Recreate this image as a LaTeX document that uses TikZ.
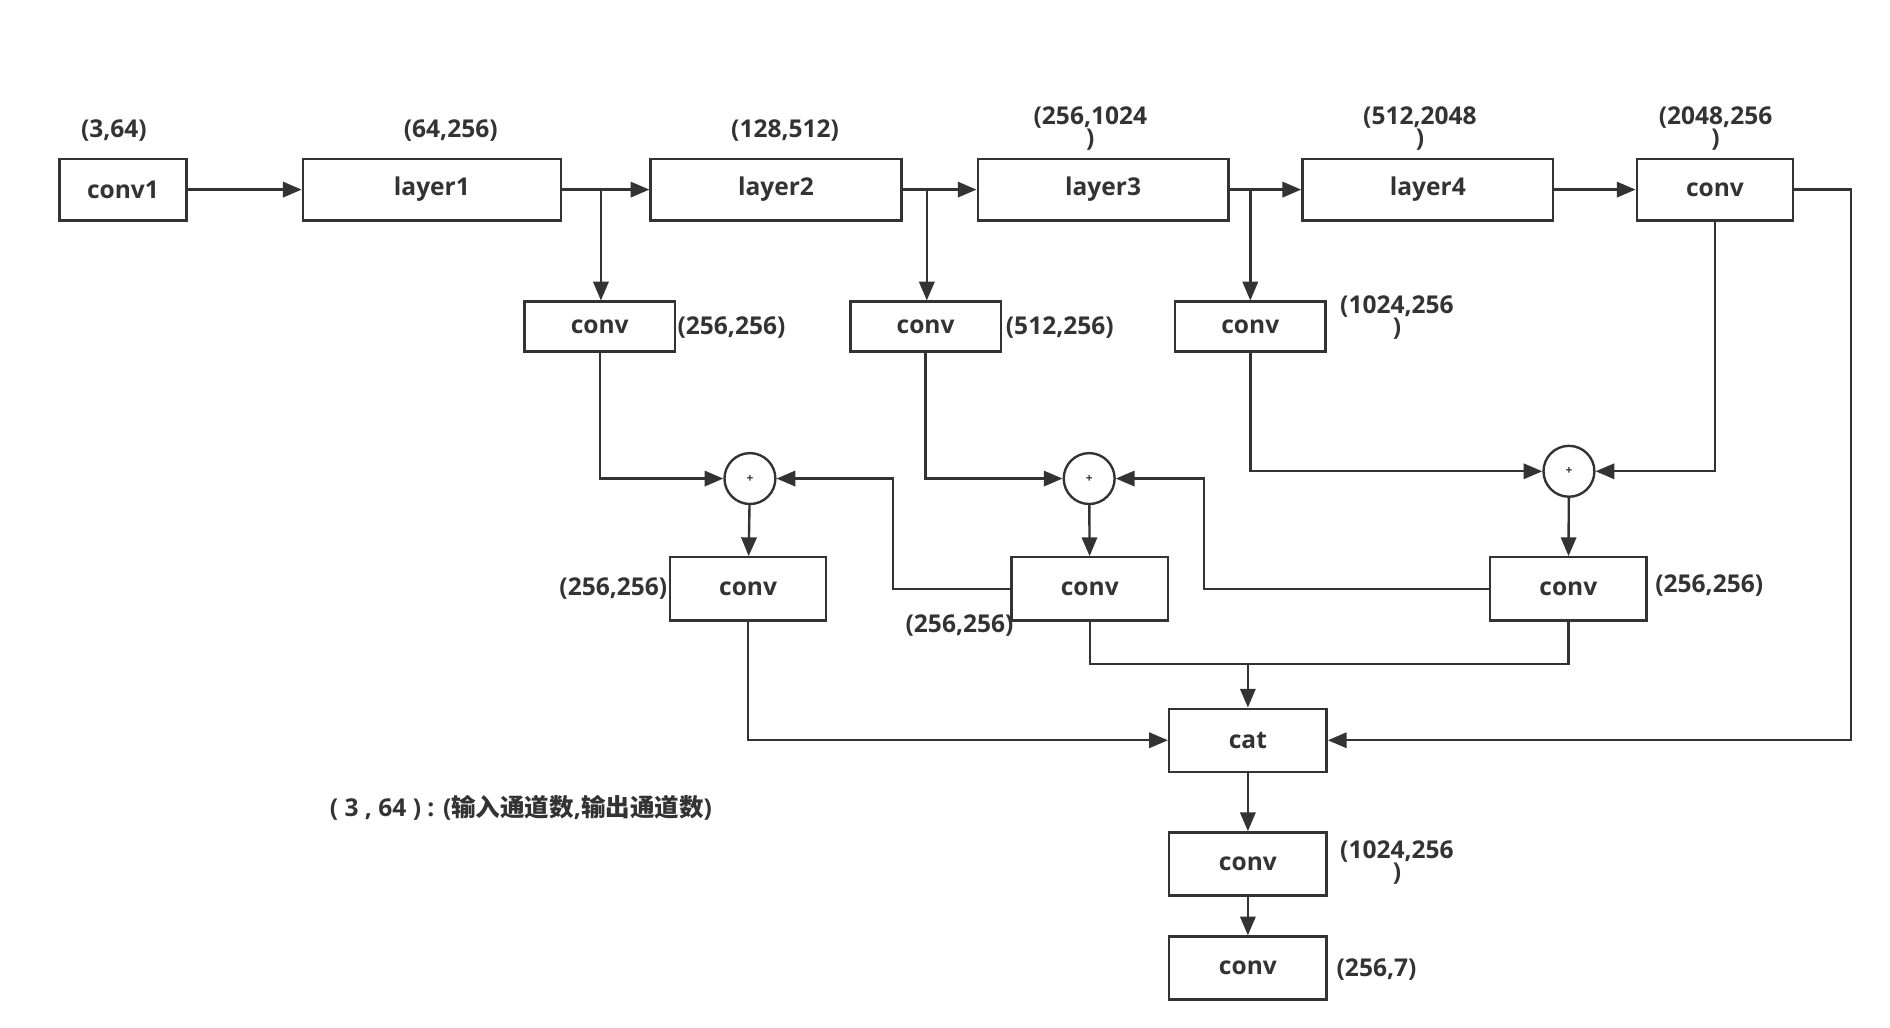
\documentclass[tikz,border=0pt]{standalone}
\usepackage{fontspec}
\setmainfont{Open Sans}
\newfontfamily\cjk{Noto Sans CJK SC}
\usetikzlibrary{arrows.meta}
\definecolor{ink}{RGB}{51,51,51}
\begin{document}
\begin{tikzpicture}[x=0.025cm,y=-0.025cm,
  box/.style={draw=ink,line width=1.4pt,fill=white,font=\bfseries\Large,text=ink,inner sep=0pt},
  lab/.style={font=\bfseries\Large,text=ink,inner sep=0pt},
  pl/.style={draw=ink,line width=1.4pt,circle,minimum size=1.05cm,inner sep=0pt,font=\scriptsize\bfseries,text=ink},
  ar/.style={draw=ink,line width=1.4pt,-{Triangle[length=11pt,width=9pt]}},
  ln/.style={draw=ink,line width=1.4pt}]
\useasboundingbox (0,0) rectangle (1560,848);
\newcommand\bx[6]{\node[box,minimum width=#4*0.025cm-1.4pt,minimum height=#5*0.025cm-1.4pt] (#1) at (#2,#3) {#6};}
\bx{c1}{101.5}{156.5}{107}{53}{conv1}
\bx{l1}{356.5}{156.5}{215}{53}{layer1}
\bx{l2}{640.5}{156.5}{209}{53}{layer2}
\bx{l3}{910.5}{156.5}{209}{53}{layer3}
\bx{l4}{1178.5}{156.5}{209}{53}{layer4}
\bx{ct}{1415.5}{156.5}{131}{53}{conv}
\bx{ca}{495}{269.5}{126}{43}{conv}
\bx{cb}{764}{269.5}{126}{43}{conv}
\bx{cc}{1032}{269.5}{126}{43}{conv}
\node[pl] (p1) at (619,395) {+};
\node[pl] (p2) at (899,395) {+};
\node[pl] (p3) at (1295,389) {+};
\bx{cd}{617.5}{486}{131}{54}{conv}
\bx{ce}{899.5}{486}{131}{54}{conv}
\bx{cf}{1294.5}{486}{131}{54}{conv}
\bx{cat}{1030}{611}{132}{54}{cat}
\bx{c7}{1030}{713}{132}{54}{conv}
\bx{c8}{1030}{799}{132}{54}{conv}
% labels
\node[lab] (t1) at (94,108) {(3,64)};
\node[lab] (t2) at (372,108) {(64,256)};
\node[lab] (t3) at (648,108) {(128,512)};
\node[lab,align=center] (t4) at (900,106) {(256,1024\\[-5pt])};
\node[lab,align=center] (t5) at (1172,106) {(512,2048\\[-5pt])};
\node[lab,align=center] (t6) at (1416,106) {(2048,256\\[-5pt])};
\node[lab,anchor=west] (t7) at (559,270) {(256,256)};
\node[lab,anchor=west] (t8) at (830,270) {(512,256)};
\node[lab,align=center] (t9) at (1153,262) {(1024,256\\[-5pt])};
\node[lab,anchor=east] (t10) at (551,486) {(256,256)};
\node[lab] (t11) at (792,516) {(256,256)};
\node[lab,anchor=west] (t12) at (1366,483) {(256,256)};
\node[lab,align=center] (t13) at (1153,712) {(1024,256\\[-5pt])};
\node[lab,anchor=west] (t14) at (1103,800) {(256,7)};
\node[lab,anchor=west] (t15) at (272,667) {( 3 , 64 ) : ({\cjk\bfseries 输入通道数},{\cjk\bfseries 输出通道数})};
% connectors
\draw[ar] (c1) -- (l1);
\draw[ar] (l1) -- (l2);
\draw[ar] (l2) -- (l3);
\draw[ar] (l3) -- (l4);
\draw[ar] (l4) -- (ct);
\coordinate (s1) at (496,156.5);
\coordinate (s2) at (765,156.5);
\coordinate (s3) at (1032,156.5);
\draw[ar] (s1) -- (s1 |- ca.north);
\draw[ar] (s2) -- (s2 |- cb.north);
\draw[ar] (s3) -- (s3 |- cc.north);
\draw[ar] (ca.south) |- (p1.west);
\draw[ar] (cb.south) |- (p2.west);
\draw[ar] (cc.south) |- (p3.west);
\draw[ar] (ct.south) |- (p3.east);
\draw[ar] (p1) -- (cd);
\draw[ar] (p2) -- (ce);
\draw[ar] (p3) -- (cf);
\coordinate (k1) at (737,486);
\coordinate (k2) at (994,486);
\draw[ar] (ce.west) -- (k1) |- (p1.east);
\draw[ar] (cf.west) -- (k2) |- (p2.east);
\draw[ar] (cd.south) |- (cat.west);
\coordinate (m) at (1030,548);
\draw[ln] (ce.south) |- (m);
\draw[ln] (cf.south) |- (m);
\draw[ar] (m) -- (cat.north);
\coordinate (r) at (1528,156.5);
\draw[ar] (ct.east) -- (r) |- (cat.east);
\draw[ar] (cat) -- (c7);
\draw[ar] (c7) -- (c8);
\end{tikzpicture}
\end{document}
